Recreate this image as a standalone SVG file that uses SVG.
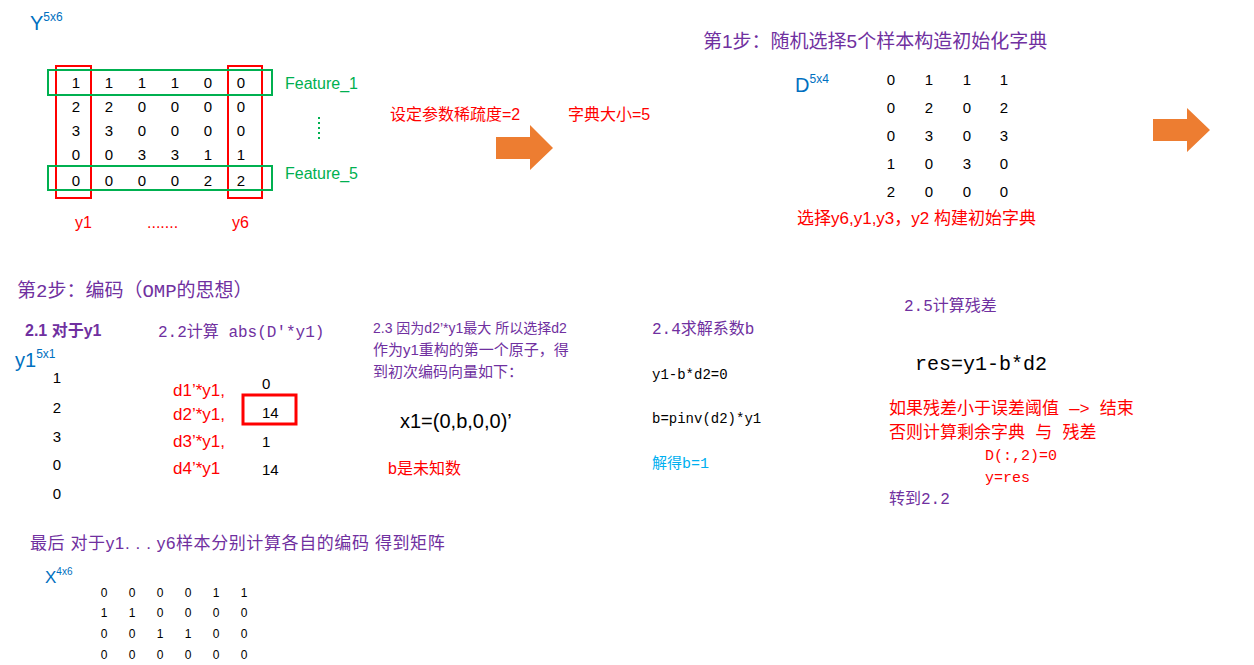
<svg xmlns="http://www.w3.org/2000/svg" width="1254" height="665" viewBox="0 0 1254 665">
<style>
text{font-family:"Liberation Sans","Noto Sans CJK SC",sans-serif;}
.mono{font-family:"Liberation Mono","Noto Sans CJK SC",monospace}
.k{fill:#000;font-size:15px}
.m{fill:#000;font-size:15px;text-anchor:middle}
.s{fill:#000;font-size:12px;text-anchor:middle}
.r{fill:#ff0000;font-size:16px}
.p{fill:#7030a0;font-size:15px}
.ph{fill:#7030a0;font-size:19px}
.b{fill:#0070c0;font-size:20px}
.sup{font-size:12px}
.g{fill:#00b050;font-size:16px}
.rb{fill:none;stroke:#ff0000;stroke-width:2}
.gb{fill:none;stroke:#00b050;stroke-width:2}
.arr{fill:#ed7d31}
</style>
<rect width="1254" height="665" fill="#fff"/>
<g id="Y">
<text class="b" x="30" y="30">Y<tspan class="sup" dy="-9">5x6</tspan></text>
<g>
<text class="m" x="76" y="88">1</text><text class="m" x="109" y="88">1</text><text class="m" x="142" y="88">1</text><text class="m" x="175" y="88">1</text><text class="m" x="208" y="88">0</text><text class="m" x="241" y="88">0</text>
<text class="m" x="76" y="112">2</text><text class="m" x="109" y="112">2</text><text class="m" x="142" y="112">0</text><text class="m" x="175" y="112">0</text><text class="m" x="208" y="112">0</text><text class="m" x="241" y="112">0</text>
<text class="m" x="76" y="136">3</text><text class="m" x="109" y="136">3</text><text class="m" x="142" y="136">0</text><text class="m" x="175" y="136">0</text><text class="m" x="208" y="136">0</text><text class="m" x="241" y="136">0</text>
<text class="m" x="76" y="160">0</text><text class="m" x="109" y="160">0</text><text class="m" x="142" y="160">3</text><text class="m" x="175" y="160">3</text><text class="m" x="208" y="160">1</text><text class="m" x="241" y="160">1</text>
<text class="m" x="76" y="186">0</text><text class="m" x="109" y="186">0</text><text class="m" x="142" y="186">0</text><text class="m" x="175" y="186">0</text><text class="m" x="208" y="186">2</text><text class="m" x="241" y="186">2</text>
</g>
<rect class="rb" x="56" y="66" width="35" height="132"/>
<rect class="rb" x="228" y="66" width="34" height="132"/>
<rect class="gb" x="48" y="70" width="224" height="25"/>
<rect class="gb" x="48" y="166" width="224" height="24"/>
<text class="g" x="285" y="89">Feature_1</text>
<text class="g" x="285" y="179">Feature_5</text>
<line x1="319" y1="117" x2="319" y2="141" stroke="#00b050" stroke-width="2" stroke-dasharray="2,3"/>
<text class="r" x="75" y="228">y1</text>
<text class="r" x="147" y="228">.......</text>
<text class="r" x="232" y="228">y6</text>
</g>
<g id="params">
<text class="r" x="390" y="120">设定参数稀疏度=2</text>
<text class="r" x="568" y="120">字典大小=5</text>
</g>
<g id="connectors">
<polygon class="arr" points="496,137 530,137 530,125 553,148 530,170 530,159 496,159"/>
<polygon class="arr" points="1153,119 1187,119 1187,108 1210,130 1187,152 1187,141 1153,141"/>
</g>
<g id="step1">
<text class="ph" x="703" y="48">第1步：随机选择5个样本构造初始化字典</text>
<text class="b" x="795" y="92">D<tspan class="sup" dy="-9">5x4</tspan></text>
<text class="m" x="891" y="85">0</text><text class="m" x="929" y="85">1</text><text class="m" x="967" y="85">1</text><text class="m" x="1004" y="85">1</text>
<text class="m" x="891" y="113">0</text><text class="m" x="929" y="113">2</text><text class="m" x="967" y="113">0</text><text class="m" x="1004" y="113">2</text>
<text class="m" x="891" y="141">0</text><text class="m" x="929" y="141">3</text><text class="m" x="967" y="141">0</text><text class="m" x="1004" y="141">3</text>
<text class="m" x="891" y="169">1</text><text class="m" x="929" y="169">0</text><text class="m" x="967" y="169">3</text><text class="m" x="1004" y="169">0</text>
<text class="m" x="891" y="197">2</text><text class="m" x="929" y="197">0</text><text class="m" x="967" y="197">0</text><text class="m" x="1004" y="197">0</text>
<text class="r" x="797" y="224" style="font-size:17px">选择y6,y1,y3，y2 构建初始字典</text>
</g>
<g id="step2">
<text class="ph mono" x="17" y="297">第2步：编码（OMP的思想）</text>
<text class="p" x="25" y="336" style="font-weight:bold;font-size:16px">2.1 对于y1</text>
<text class="p mono" x="158" y="337" style="font-size:16px">2.2计算 abs(D'*y1)</text>
<text class="b" x="15" y="367">y1<tspan class="sup" dy="-9">5x1</tspan></text>
<text class="m" x="57" y="383">1</text><text class="m" x="57" y="413">2</text><text class="m" x="57" y="442">3</text><text class="m" x="57" y="470">0</text><text class="m" x="57" y="499">0</text>
<text class="r" x="173" y="396" style="font-size:17px">d1’*y1,</text>
<text class="r" x="173" y="420" style="font-size:17px">d2’*y1,</text>
<text class="r" x="173" y="447" style="font-size:17px">d3’*y1,</text>
<text class="r" x="173" y="474" style="font-size:17px">d4’*y1</text>
<text class="k" x="262" y="389">0</text>
<text class="k" x="262" y="418">14</text>
<text class="k" x="262" y="447">1</text>
<text class="k" x="262" y="475">14</text>
<rect class="rb" x="243" y="395" width="53" height="29" style="stroke-width:3"/>
<text class="p" x="373" y="333" style="font-size:14px">2.3 因为d2’*y1最大 所以选择d2</text>
<text class="p" x="373" y="355" style="font-size:15px">作为y1重构的第一个原子，得</text>
<text class="p" x="373" y="377" style="font-size:15px">到初次编码向量如下：</text>
<text class="k" x="400" y="428" style="font-size:20px">x1=(0,b,0,0)’</text>
<text class="r" x="388" y="474">b是未知数</text>
<text class="p mono" x="652" y="334" style="font-size:16px">2.4求解系数b</text>
<text class="k mono" x="652" y="379" style="font-size:14px">y1-b*d2=0</text>
<text class="k mono" x="652" y="423" style="font-size:14px">b=pinv(d2)*y1</text>
<text class="mono" x="652" y="468" style="font-size:15px" fill="#00b0f0">解得b=1</text>
<text class="p mono" x="904" y="311" style="font-size:16px">2.5计算残差</text>
<text class="k mono" x="915" y="370" style="font-size:20px">res=y1-b*d2</text>
<text class="r mono" x="889" y="414" style="font-size:17px">如果残差小于误差阈值 —&gt; 结束</text>
<text class="r mono" x="889" y="438" style="font-size:17px">否则计算剩余字典 与 残差</text>
<text class="r mono" x="985" y="460" style="font-size:15px">D(:,2)=0</text>
<text class="r mono" x="985" y="482" style="font-size:15px">y=res</text>
<text class="p mono" x="889" y="504" style="font-size:16px">转到2.2</text>
</g>
<g id="final">
<text class="p" x="30" y="549" style="font-size:17px;letter-spacing:0.6px">最后  对于y1. . . y6样本分别计算各自的编码  得到矩阵</text>
<text class="b" x="45" y="583" style="font-size:17px">X<tspan style="font-size:10px" dy="-8">4x6</tspan></text>
<text class="s" x="104" y="597">0</text><text class="s" x="132" y="597">0</text><text class="s" x="160" y="597">0</text><text class="s" x="188" y="597">0</text><text class="s" x="216" y="597">1</text><text class="s" x="244" y="597">1</text>
<text class="s" x="104" y="617">1</text><text class="s" x="132" y="617">1</text><text class="s" x="160" y="617">0</text><text class="s" x="188" y="617">0</text><text class="s" x="216" y="617">0</text><text class="s" x="244" y="617">0</text>
<text class="s" x="104" y="638">0</text><text class="s" x="132" y="638">0</text><text class="s" x="160" y="638">1</text><text class="s" x="188" y="638">1</text><text class="s" x="216" y="638">0</text><text class="s" x="244" y="638">0</text>
<text class="s" x="104" y="659">0</text><text class="s" x="132" y="659">0</text><text class="s" x="160" y="659">0</text><text class="s" x="188" y="659">0</text><text class="s" x="216" y="659">0</text><text class="s" x="244" y="659">0</text>
</g>
</svg>
